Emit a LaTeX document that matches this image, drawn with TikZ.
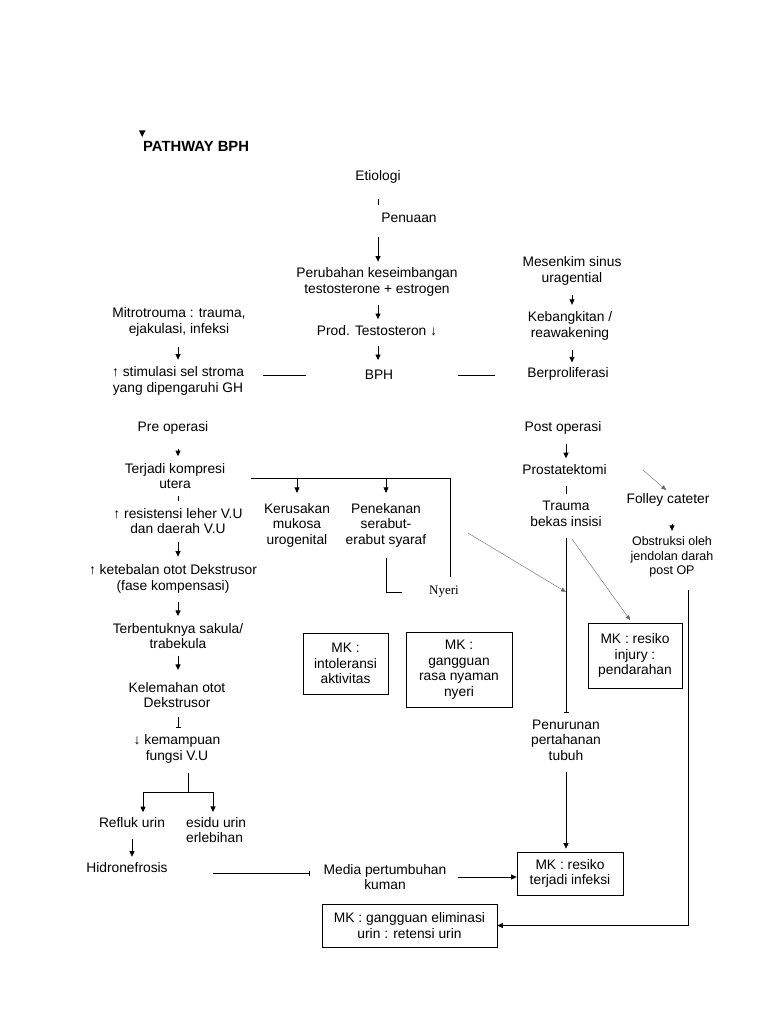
\documentclass[tikz,border=0pt]{standalone}
\usepackage{fontspec}
\setmainfont{Liberation Sans}
\newfontfamily\nyerifont{Liberation Serif}
\usetikzlibrary{arrows.meta}
\tikzset{arrow/.style={draw,-{Triangle[length=5.5pt,width=5pt]},line width=0.8pt,#1}}
\tikzset{arrow/.default={black}}
\tikzset{bararrow/.style={draw,-{Bar[width=5pt]},line width=0.8pt}}
\tikzset{thinarrow/.style={draw,-{Triangle[length=5pt,width=4pt]},line width=0.4pt,gray!80!black}}
\tikzset{link/.style={draw,line width=0.8pt}}
\tikzset{txt/.style={align=center,inner sep=0pt}}
\tikzset{mkbox/.style={draw,align=center,inner sep=2pt,line width=0.7pt}}
\tikzset{font={\fontsize{13.8pt}{15.5pt}\selectfont}}

\begin{document}
\begin{tikzpicture}[x=1pt,y=-1pt]
        \useasboundingbox (0,0) rectangle (768,1024);
        \coordinate (mcol) at (378,0);
        \coordinate (lcol) at (178,0);
        \coordinate (rcol) at (572,0);
        \coordinate (pcol) at (566,0);

        % title
        \fill (139,130.5) -- (145.5,130.5) -- (142.2,137) -- cycle;
        \node[txt,anchor=west,font={\fontsize{14.8pt}{16pt}\selectfont\bfseries}] (title) at (143,146) {PATHWAY BPH};

        % centre column
        \node[txt] (etio) at (378,177) {Etiologi};
        \node[txt] (penuaan) at (409,218) {Penuaan};
        \node[txt] (perubahan) at (377,282) {Perubahan keseimbangan\\testosterone + estrogen};
        \node[txt] (prod) at (377,331) {Prod. Testosteron ↓};
        \node[txt] (bph) at (379,375) {BPH};
        \node[txt] (mitro) at (179,322) {Mitrotrouma : trauma,\\ejakulasi, infeksi};
        \node[txt] (stim) at (178,381) {↑ stimulasi sel stroma\\yang dipengaruhi GH};
        \node[txt] (mesen) at (572,271) {Mesenkim sinus\\uragential};
        \node[txt] (bangkit) at (570,326) {Kebangkitan /\\reawakening};
        \node[txt] (prolif) at (568,374) {Berproliferasi};

        % pre operasi
        \node[txt] (pre) at (173,428) {Pre operasi};
        \node[txt] (kompresi) at (175,476) {Terjadi kompresi\\utera};
        \node[txt] (resist) at (178,521) {↑ resistensi leher V.U\\dan daerah V.U};
        \node[txt] (tebal) at (173,579) {↑ ketebalan otot Dekstrusor\\(fase kompensasi)};
        \node[txt] (sakula) at (178,636) {Terbentuknya sakula/\\trabekula};
        \node[txt] (lemah) at (177,695) {Kelemahan otot\\Dekstrusor};
        \node[txt] (mampu) at (177,749) {↓ kemampuan\\fungsi V.U};
        \node[txt] (refluk) at (132,823) {Refluk urin};
        \node[txt,align=left,anchor=west] (residu) at (186,830) {esidu urin\\erlebihan};
        \node[txt] (hidro) at (127,868) {Hidronefrosis};
        \node[txt] (media) at (385,877) {Media pertumbuhan\\kuman};
        \node[txt] (kerusakan) at (297,525) {Kerusakan\\mukosa\\urogenital};
        \node[txt] (penekanan) at (386,525) {Penekanan\\serabut-\\erabut syaraf};
        \node[txt,font={\fontsize{13pt}{15pt}\nyerifont}] (nyeri) at (444,592) {Nyeri};
        \node[mkbox,minimum width=85pt,minimum height=61pt] (intol) at (345.5,663.5) {MK :\\intoleransi\\aktivitas};
        \node[mkbox,minimum width=106pt,minimum height=75pt] (nyaman) at (459,669.5) {MK :\\gangguan\\rasa nyaman\\nyeri};

        % post operasi
        \node[txt] (post) at (563,428) {Post operasi};
        \node[txt] (prostat) at (564.5,470) {Prostatektomi};
        \node[txt] (trauma) at (566,514) {Trauma\\bekas insisi};
        \node[txt] (folley) at (668,500) {Folley cateter};
        \node[txt,font={\fontsize{12.5pt}{14.5pt}\selectfont}] (obstruksi) at (672,557) {Obstruksi oleh\\jendolan darah\\post OP};
        \node[mkbox,minimum width=94pt,minimum height=65pt] (injury) at (635,655.5) {MK : resiko\\injury :\\pendarahan};
        \node[txt] (penurunan) at (566,740) {Penurunan\\pertahanan\\tubuh};
        \node[mkbox,minimum width=106pt,minimum height=43pt] (infeksi) at (570,873.5) {MK : resiko\\terjadi infeksi};
        \node[mkbox,minimum width=175pt,minimum height=43pt] (eliminasi) at (409.5,925.5) {MK : gangguan eliminasi\\urin : retensi urin};

        % connectors, centre
        \path[link,shorten <=15.5pt,shorten >=8pt] (etio.south -| mcol) -- (penuaan.north -| mcol);
        \foreach \u/\v/\p/\q in {penuaan/perubahan/14/6, perubahan/prod/9/6.5, prod/bph/9.5/10}{
            \path[arrow,shorten <=\p pt,shorten >=\q pt] (\u.south -| mcol) -- (\v.north -| mcol);
        }
        \path[arrow,shorten <=11pt,shorten >=7pt] (mitro.south -| lcol) -- (stim.north -| lcol);
        \path[link,shorten <=18.5pt,shorten >=59pt] (stim.east |- bph) -- (bph.west);
        \path[link,shorten <=65pt,shorten >=32.5pt] (bph.east) -- (bph.east -| prolif.west);
        \path[arrow,shorten <=10pt,shorten >=6.8pt] (mesen.south -| rcol) -- (bangkit.north -| rcol);
        \path[arrow,shorten <=10pt,shorten >=5pt] (bangkit.south -| rcol) -- (prolif.north -| rcol);

        % connectors, pre operasi
        \foreach \u/\v/\p/\q in {pre/kompresi/14.5/6.8, resist/tebal/8/8, tebal/sakula/9/7, sakula/lemah/7/12}{
            \path[arrow,shorten <=\p pt,shorten >=\q pt] (\u.south -| lcol) -- (\v.north -| lcol);
        }
        \path[link,shorten <=7pt,shorten >=7pt] (kompresi.south -| lcol) -- (resist.north -| lcol);
        \path[bararrow,shorten <=9pt,shorten >=7pt] (lemah.south -| lcol) -- (mampu.north -| lcol);
        \coordinate (fork) at (188,792);
        \coordinate (forkL) at (143,792);
        \coordinate (forkR) at (213,792);
        \path[link,shorten <=10pt] (mampu.south -| fork) -- (fork);
        \path[link] (forkL) -- (forkR);
        \path[arrow,shorten >=5.5pt] (forkL) -- (forkL |- refluk.north);
        \path[arrow,shorten >=5pt] (forkR) -- (forkR |- residu.north);
        \path[arrow,shorten <=10.5pt,shorten >=6pt] (refluk.south) -- (refluk.south |- hidro.north);
        \path[bararrow,shorten <=45.5pt,shorten >=13.5pt] ([yshift=-5pt]hidro.east) -- ([yshift=-5pt]hidro.east -| media.west);
        \path[arrow,shorten <=11.5pt] (media.east) -- (media.east -| infeksi.west);

        % kompresi branches
        \coordinate (brR) at (450,478);
        \coordinate (brEnd) at (450,577);
        \path[link,shorten <=26pt] (kompresi.east |- brR) -- (brR) -- (brEnd);
        \path[arrow,shorten >=10pt] (brR -| kerusakan) -- (kerusakan.north);
        \path[arrow,shorten >=10pt] (brR -| penekanan) -- (penekanan.north);
        \path[link,shorten <=11pt,shorten >=27pt] (penekanan.south) |- (nyeri.west);

        % connectors, post operasi
        \path[arrow,shorten <=9.5pt,shorten >=6.5pt] (post.south -| pcol) -- (prostat.north -| pcol);
        \path[link,shorten <=10.5pt,shorten >=6.8pt] (prostat.south -| pcol) -- (trauma.north -| pcol);
        \path[bararrow,shorten <=11pt,shorten >=7pt] (trauma.south -| pcol) -- (penurunan.north -| pcol);
        \path[arrow,shorten <=11pt,shorten >=3pt] (penurunan.south -| pcol) -- (infeksi.north -| pcol);
        \path[thinarrow,shorten >=5pt] ([xshift=36pt]prostat.east) -- ([xshift=2pt]folley.north);
        \path[arrow,shorten <=17pt,shorten >=5.6pt] (folley.south -| obstruksi) -- (obstruksi.north);
        \path[arrow,shorten <=12.6pt] ([xshift=16pt]obstruksi.south) |- (eliminasi.east);
        \coordinate (painFrom) at (468,533);
        \coordinate (painTo) at (566,592);
        \path[thinarrow] (painFrom) -- (painTo);
        \coordinate (bleedFrom) at (572,539);
        \path[thinarrow,shorten >=3pt] (bleedFrom) -- ([xshift=-3pt]injury.north);
    \end{tikzpicture}
\end{document}
